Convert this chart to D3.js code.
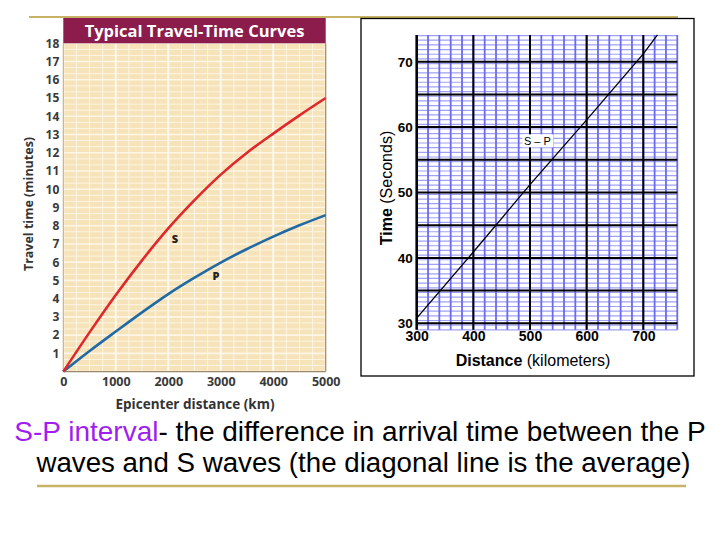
<!DOCTYPE html>
<html><head><meta charset="utf-8">
<script src="https://cdn.jsdelivr.net/npm/d3@7"></script>
<style>body{margin:0;background:#fff}svg{display:block}</style>
</head><body>
<svg id="c" width="720" height="540"></svg>
<script>
// ---- Left chart data (Typical Travel-Time Curves) ----
const distKm = [0, 500, 1000, 1500, 2000, 2500, 3000, 3500, 4000, 4500, 5000];
const sMinutes = [0, 2.15, 4.2, 6.1, 7.85, 9.4, 10.8, 12.0, 13.05, 14.05, 15.0];
const pMinutes = [0, 1.13, 2.2, 3.25, 4.25, 5.15, 5.98, 6.72, 7.4, 8.02, 8.58];
const leftXTicks = [0, 1000, 2000, 3000, 4000, 5000];
const leftYTicks = [1,2,3,4,5,6,7,8,9,10,11,12,13,14,15,16,17,18];
// ---- Right chart data (S-P interval) ----
const spDist = [300, 400, 500, 600, 700, 725];
const spSeconds = [30.8, 40.9, 51.2, 61.1, 71.2, 74.1];
const rightXTicks = [300, 400, 500, 600, 700];
const rightYTicks = [30, 40, 50, 60, 70];

const svg = d3.select("#c");
const gold = "#c8b266";

// decorative gold rules
svg.append("line").attr("x1",29).attr("x2",678).attr("y1",17).attr("y2",17).attr("stroke",gold).attr("stroke-width",2);
svg.append("line").attr("x1",37).attr("x2",686).attr("y1",486).attr("y2",486).attr("stroke",gold).attr("stroke-width",2.5);

// ================= LEFT CHART =================
const lx = d3.scaleLinear().domain([0,5000]).range([63.3,325.7]);
const ly = d3.scaleLinear().domain([0,18]).range([371.6,43.3]);
const LF = "'Open Sans', sans-serif";
const L = svg.append("g").attr("font-family",LF);

L.append("rect").attr("x",lx(0)).attr("y",ly(18)).attr("width",lx(5000)-lx(0)).attr("height",ly(0)-ly(18)).attr("fill","#f7e3b9");
// grid
const lxMinor = d3.range(0,5001,250), lyMinor = d3.range(0,18.001,1/3);
L.append("g").selectAll("line").data(lxMinor).join("line")
 .attr("x1",d=>lx(d)).attr("x2",d=>lx(d)).attr("y1",ly(0)).attr("y2",ly(18))
 .attr("stroke","#fffaf0").attr("stroke-width",d=>d%1000===0?2:1).attr("opacity",d=>d%1000===0?0.95:0.8);
L.append("g").selectAll("line").data(lyMinor).join("line")
 .attr("x1",lx(0)).attr("x2",lx(5000)).attr("y1",d=>ly(d)).attr("y2",d=>ly(d))
 .attr("stroke","#fffaf0").attr("stroke-width",d=>Math.abs(d-Math.round(d))<1e-6?1.6:0.9).attr("opacity",0.85);
// border
L.append("line").attr("x1",lx(5000)).attr("x2",lx(5000)).attr("y1",ly(18)).attr("y2",ly(0)).attr("stroke","#9a8a70").attr("stroke-width",1.2);
L.append("line").attr("x1",lx(0)).attr("x2",lx(5000)).attr("y1",ly(0)).attr("y2",ly(0)).attr("stroke","#9a8a70").attr("stroke-width",1.2);
L.append("line").attr("x1",lx(0)).attr("x2",lx(0)).attr("y1",ly(18)).attr("y2",ly(0)).attr("stroke","#b8a888").attr("stroke-width",1);

// title banner
L.append("rect").attr("x",lx(0)).attr("y",18).attr("width",lx(5000)-lx(0)).attr("height",ly(18)-18).attr("fill","#8b1c4b");
L.append("text").attr("x",(lx(0)+lx(5000))/2).attr("y",36.5).attr("text-anchor","middle")
 .attr("fill","#fff").attr("font-weight","bold").attr("font-size",16.5).text("Typical Travel-Time Curves");

// axes via d3
const lAxisY = d3.axisLeft(ly).tickValues(leftYTicks).tickSize(0).tickPadding(4);
const gly = L.append("g").attr("transform",`translate(${lx(0)},0)`).call(lAxisY);
gly.select(".domain").remove();
gly.selectAll("text").attr("font-family",LF).attr("font-weight","bold").attr("font-size",12).attr("fill","#3a3a3a");
const lAxisX = d3.axisBottom(lx).tickValues(leftXTicks).tickFormat(d3.format("d")).tickSize(0).tickPadding(6);
const glx = L.append("g").attr("transform",`translate(0,${ly(0)})`).call(lAxisX);
glx.select(".domain").remove();
glx.selectAll("text").attr("font-family",LF).attr("font-weight","bold").attr("font-size",12.5).attr("fill","#3a3a3a");

L.append("text").attr("x",195).attr("y",409).attr("text-anchor","middle")
 .attr("font-weight","bold").attr("font-size",13.5).attr("fill","#333").text("Epicenter distance (km)");
L.append("text").attr("transform","translate(33,204) rotate(-90)").attr("text-anchor","middle")
 .attr("font-weight","bold").attr("font-size",12.5).attr("fill","#333").text("Travel time (minutes)");

// curves
const lline = (arr)=>d3.line().x((d,i)=>lx(distKm[i])).y(d=>ly(d)).curve(d3.curveCatmullRom)(arr);
L.append("path").attr("d",lline(pMinutes)).attr("fill","none").attr("stroke","#1f6aa5").attr("stroke-width",2.6);
L.append("path").attr("d",lline(sMinutes)).attr("fill","none").attr("stroke","#e0282c").attr("stroke-width",2.6);
L.append("text").attr("x",lx(2128)).attr("y",ly(7.05)).attr("text-anchor","middle")
 .attr("font-weight","800").attr("font-size",11).attr("fill","#222").text("S");
L.append("text").attr("x",lx(2910)).attr("y",ly(5.02)).attr("text-anchor","middle")
 .attr("font-weight","800").attr("font-size",11).attr("fill","#222").text("P");

// ================= RIGHT CHART =================
const rx = d3.scaleLinear().domain([300,700]).range([416.7,643.3]);
const ry = d3.scaleLinear().domain([30,70]).range([323.3,61.7]);
const rxMax = 760, ryMin = 29, ryMax = 74.1;
const RF = "'Liberation Sans', Arial, sans-serif";
const R = svg.append("g").attr("font-family",RF);
R.append("rect").attr("x",361).attr("y",18.5).attr("width",333).attr("height",357.5).attr("fill","#fff").attr("stroke","#000").attr("stroke-width",1.3);

R.append("g").selectAll("line").data(d3.range(ryMin, ryMax, 5/7)).join("line")
 .attr("x1",rx(300)).attr("x2",rx(rxMax)).attr("y1",d=>ry(d)).attr("y2",d=>ry(d))
 .attr("stroke","#a0a0f4").attr("stroke-width",1.2);
R.append("g").selectAll("line").data(d3.range(300,rxMax+1,20)).join("line")
 .attr("x1",d=>rx(d)).attr("x2",d=>rx(d)).attr("y1",ry(ryMin)).attr("y2",ry(ryMax))
 .attr("stroke","#6a6af0").attr("stroke-width",1.8);
// heavy black grid
R.append("g").selectAll("line").data(d3.range(30,71,5)).join("line")
 .attr("x1",rx(300)).attr("x2",rx(rxMax)).attr("y1",d=>ry(d)).attr("y2",d=>ry(d))
 .attr("stroke","#000").attr("stroke-width",2);
R.append("g").selectAll("line").data(d3.range(300,701,100)).join("line")
 .attr("x1",d=>rx(d)).attr("x2",d=>rx(d)).attr("y1",ry(ryMin)).attr("y2",ry(ryMax))
 .attr("stroke","#000").attr("stroke-width",d=>d===300?2.5:2);

// axes
const rAxisY = d3.axisLeft(ry).tickValues(rightYTicks).tickSize(0).tickPadding(4);
const gry = R.append("g").attr("transform",`translate(${rx(300)},0)`).call(rAxisY);
gry.select(".domain").remove();
gry.selectAll("text").attr("font-family",RF).attr("font-weight","bold").attr("font-size",13.5).attr("fill","#000");
const rAxisX = d3.axisBottom(rx).tickValues(rightXTicks).tickSize(0).tickPadding(8);
const grx = R.append("g").attr("transform",`translate(0,${ry(30)})`).call(rAxisX);
grx.select(".domain").remove();
grx.selectAll("text").attr("font-family",RF).attr("font-weight","bold").attr("font-size",14).attr("fill","#000");

const xt = R.append("text").attr("x",533).attr("y",366).attr("text-anchor","middle").attr("font-size",16).attr("fill","#000");
xt.append("tspan").attr("font-weight","bold").text("Distance");
xt.append("tspan").text(" (kilometers)");
const yt = R.append("text").attr("transform","translate(392,188) rotate(-90)").attr("text-anchor","middle").attr("font-size",16).attr("fill","#000");
yt.append("tspan").attr("font-weight","bold").text("Time");
yt.append("tspan").text(" (Seconds)");

// S-P line
R.append("path").attr("d",d3.line().x((d,i)=>rx(spDist[i])).y(d=>ry(d))(spSeconds))
 .attr("fill","none").attr("stroke","#000").attr("stroke-width",1.3);
// S-P label
R.append("rect").attr("x",rx(513)-15).attr("y",ry(57.9)-6.5).attr("width",31).attr("height",13).attr("fill","#fff");
R.append("text").attr("x",rx(513)).attr("y",ry(57.9)+4).attr("text-anchor","middle").attr("font-size",11).attr("fill","#000").text("S – P");

// ================= CAPTION =================
const cap = svg.append("g").attr("font-family",RF).attr("font-size",28);
const t1 = cap.append("text").attr("x",360).attr("y",441).attr("text-anchor","middle");
t1.append("tspan").attr("fill","#a01ff0").text("S-P interval");
t1.append("tspan").attr("fill","#000").text("- the difference in arrival time between the P");
cap.append("text").attr("x",363.5).attr("y",472).attr("text-anchor","middle").attr("fill","#000").attr("font-size",27.7)
 .text("waves and S waves (the diagonal line is the average)");
</script>
</body></html>
